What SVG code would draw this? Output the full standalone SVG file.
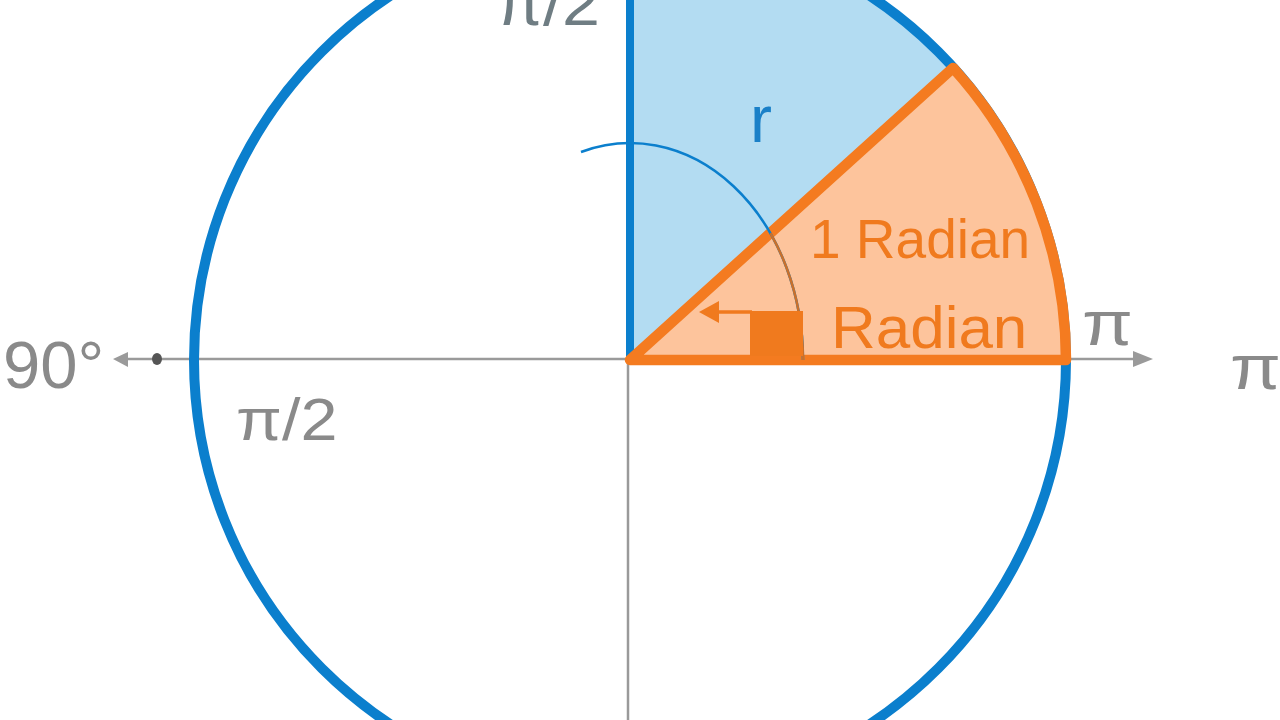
<svg xmlns="http://www.w3.org/2000/svg" width="1280" height="720" viewBox="0 0 1280 720">
<style>
.lbl{font-family:"Liberation Sans",Arial,sans-serif}
.gray{fill:#8a8a8a}
.axis{stroke:#9a9a9a;stroke-width:2.5;fill:none}
</style>
<defs>
<clipPath id="orangeClip"><path d="M630,360 L1066,360 A436,436 0 0,0 953.1,67.9 Z"/></clipPath>
</defs>
<rect width="1280" height="720" fill="#ffffff"/>
<g id="axes">
<line class="axis" x1="630" y1="359" x2="1133" y2="359"/>
<path d="M1133,351 L1153,359 L1133,367 Z" fill="#9a9a9a"/>
<line class="axis" x1="630" y1="359" x2="128" y2="359"/>
<path d="M128,352 L113,359 L128,367 Z" fill="#9a9a9a"/>
<ellipse cx="157" cy="359" rx="5" ry="6" fill="#555"/>
<line class="axis" x1="628" y1="360" x2="628" y2="720"/>
</g>
<g id="blue-sector">
<path d="M630,360 L630,-76 A436,436 0 0,1 953.1,67.9 Z" fill="#b3dcf2"/>
</g>
<g id="circle">
<circle cx="630" cy="360" r="436" fill="none" stroke="#0b7fcd" stroke-width="10"/>
<line x1="630" y1="-10" x2="630" y2="360" stroke="#0b7fcd" stroke-width="8"/>
</g>
<g id="orange-sector">
<path d="M630,360 L1066,360 A436,436 0 0,0 953.1,67.9 Z" fill="#fdc49c" stroke="#f47b20" stroke-width="10.5" stroke-linejoin="round"/>
</g>
<g id="angle-arc">
<path d="M581,152 A173,217 0 0,1 803,360" fill="none" stroke="#0b7fcd" stroke-width="2.5"/>
<path d="M581,152 A173,217 0 0,1 803,360" fill="none" stroke="#c8702c" stroke-width="2.5" clip-path="url(#orangeClip)"/>
<rect x="750" y="311" width="53" height="45" fill="#f07a1e"/>
<line x1="752" y1="312" x2="716" y2="312" stroke="#f07a1e" stroke-width="3.5"/>
<path d="M719,301 L699,312 L719,323 Z" fill="#f07a1e"/>
</g>
<g id="labels">
<text class="lbl" transform="translate(496,25) scale(1.1,1)" font-size="62" fill="#6f7d83">π/2</text>
<text class="lbl" x="750" y="142" font-size="66" fill="#1a80c8">r</text>
<text class="lbl" x="810" y="258" font-size="55" fill="#f07a1e">1 Radian</text>
<text class="lbl" transform="translate(831,348) scale(1.05,1)" font-size="59" fill="#f07a1e">Radian</text>
<text class="lbl gray" x="3" y="388" font-size="67">90°</text>
<text class="lbl gray" transform="translate(236,440) scale(1.11,1)" font-size="60">π/2</text>
<text class="lbl gray" transform="translate(1082,345) scale(1.19,1)" font-size="62">π</text>
<text class="lbl gray" transform="translate(1230,389) scale(1.19,1)" font-size="62">π</text>
</g>
</svg>
